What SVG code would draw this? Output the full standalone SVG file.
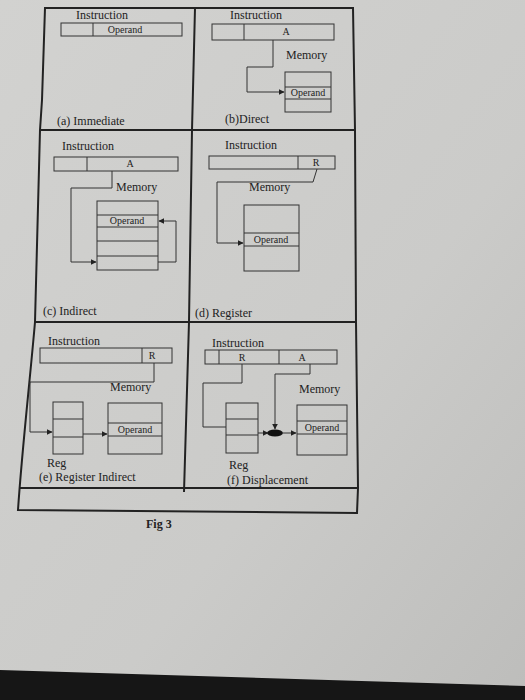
<svg xmlns="http://www.w3.org/2000/svg" width="525" height="700" viewBox="0 0 525 700">
<defs>
<linearGradient id="bg" x1="0" y1="0" x2="1" y2="1">
<stop offset="0" stop-color="#d2d2d0"/>
<stop offset="0.6" stop-color="#cbcbc9"/>
<stop offset="1" stop-color="#bdbdbb"/>
</linearGradient>
<marker id="ah" viewBox="0 0 10 10" refX="9" refY="5" markerWidth="6" markerHeight="6" markerUnits="userSpaceOnUse" orient="auto">
<path d="M0,0 L10,5 L0,10 z" fill="#222"/>
</marker>
<style>
text{font-family:"Liberation Serif","Times New Roman",serif;fill:#222;}
.t{font-size:12px;}
.s{font-size:10px;}
.c{text-anchor:middle;}
.box{fill:none;stroke:#333;stroke-width:1;}
.fr{fill:none;stroke:#222;stroke-width:2;}
.ln{fill:none;stroke:#333;stroke-width:1;}
.ar{fill:none;stroke:#333;stroke-width:1;marker-end:url(#ah);}
</style>
</defs>
<rect x="0" y="0" width="525" height="700" fill="url(#bg)"/>
<polygon points="0,670 525,686 525,700 0,700" fill="#161616"/>

<g id="frame">
<path class="fr" d="M45,8 H353 L355,130 L356,322 L358,488 L357,513 L18,510 C22,450 30,380 35,322 L40,130 L42,100 Z"/>
<path class="fr" d="M40,130 H355 M35,322 H356 M20,488 H358"/>
<polyline class="fr" points="195,8 192,130 189,322 184,492"/>
</g>

<g id="immediate">
<text class="t" x="76" y="19">Instruction</text>
<rect class="box" x="61" y="23" width="121" height="13"/>
<line class="ln" x1="93" y1="23" x2="93" y2="36"/>
<text class="s c" x="125" y="33">Operand</text>
<text class="t" x="57" y="125">(a) Immediate</text>
</g>

<g id="direct">
<text class="t" x="230" y="19">Instruction</text>
<rect class="box" x="212" y="24" width="122" height="16"/>
<line class="ln" x1="244" y1="24" x2="244" y2="40"/>
<text class="s c" x="286" y="35">A</text>
<text class="t" x="286" y="59">Memory</text>
<rect class="box" x="285" y="72" width="46" height="40"/>
<path class="ln" d="M285,87 H331 M285,99 H331"/>
<text class="s c" x="308" y="96">Operand</text>
<text class="t" x="225" y="123">(b)Direct</text>
</g>

<g id="indirect">
<text class="t" x="62" y="150">Instruction</text>
<rect class="box" x="54" y="157" width="124" height="14"/>
<line class="ln" x1="87" y1="157" x2="87" y2="171"/>
<text class="s c" x="130" y="167">A</text>
<text class="t" x="116" y="191">Memory</text>
<rect class="box" x="97" y="201" width="61" height="69"/>
<path class="ln" d="M97,215 H158 M97,227 H158 M97,241 H158 M97,256 H158"/>
<text class="s c" x="127" y="224">Operand</text>
<text class="t" x="43" y="315">(c) Indirect</text>
</g>

<g id="register">
<text class="t" x="225" y="149">Instruction</text>
<rect class="box" x="209" y="156" width="126" height="13"/>
<line class="ln" x1="298" y1="156" x2="298" y2="169"/>
<text class="s c" x="316" y="166">R</text>
<text class="t" x="249" y="191">Memory</text>
<rect class="box" x="244" y="205" width="55" height="66"/>
<path class="ln" d="M244,233 H299 M244,246 H299"/>
<text class="s c" x="271" y="243">Operand</text>
<text class="t" x="195" y="317">(d) Register</text>
</g>

<g id="register-indirect">
<text class="t" x="48" y="345">Instruction</text>
<rect class="box" x="40" y="348" width="132" height="15"/>
<line class="ln" x1="142" y1="348" x2="142" y2="363"/>
<text class="s c" x="152" y="359">R</text>
<text class="t" x="110" y="391">Memory</text>
<rect class="box" x="53" y="402" width="30" height="52"/>
<path class="ln" d="M53,419 H83 M53,437 H83"/>
<rect class="box" x="108" y="403" width="54" height="51"/>
<path class="ln" d="M108,423 H162 M108,436 H162"/>
<text class="s c" x="135" y="433">Operand</text>
<text class="t" x="47" y="467">Reg</text>
<text class="t" x="39" y="481">(e) Register Indirect</text>
</g>

<g id="displacement">
<text class="t" x="212" y="347">Instruction</text>
<rect class="box" x="205" y="350" width="132" height="14"/>
<path class="ln" d="M219,350 V364 M279,350 V364"/>
<text class="s c" x="242" y="361">R</text>
<text class="s c" x="302" y="361">A</text>
<text class="t" x="299" y="393">Memory</text>
<rect class="box" x="226" y="403" width="32" height="50"/>
<path class="ln" d="M226,419 H258 M226,435 H258"/>
<ellipse cx="275" cy="433" rx="8" ry="3.5" fill="#111"/>
<rect class="box" x="297" y="405" width="50" height="50"/>
<path class="ln" d="M297,421 H347 M297,434 H347"/>
<text class="s c" x="322" y="431">Operand</text>
<text class="t" x="229" y="469">Reg</text>
<text class="t" x="227" y="484">(f) Displacement</text>
</g>

<g id="connectors">
<path class="ar" d="M273,40 V67 H247 V92 H284"/>
<path class="ar" d="M112,171 V188 H71 V262 H96"/>
<path class="ar" d="M158,262 H176 V221 H159"/>
<path class="ar" d="M317,169 L313,182 H217 V243 H243"/>
<path class="ar" d="M154,363 V382 H30 V432 H52"/>
<path class="ar" d="M83,434 H107"/>
<path class="ln" d="M242,364 V383 H203 V427 H226"/>
<path class="ar" d="M310,364 V374 H275 V429"/>
<path class="ar" d="M258,433 H268"/>
<path class="ar" d="M283,433 H296"/>
</g>

<text x="146" y="528" style="font-size:12px;font-weight:bold">Fig 3</text>
</svg>
